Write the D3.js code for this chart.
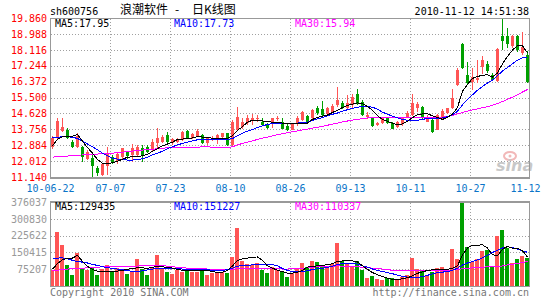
<!DOCTYPE html>
<meta charset="utf-8">
<style>
body { margin: 0; background: #fff; }
text { font-family: "DejaVu Sans Mono", monospace; font-size: 10px; }
.cjk { font-family: "Noto Sans CJK SC", sans-serif; font-size: 12px; }
</style>
<body>
<script src="https://d3js.org/d3.v7.min.js"></script>
<script>

// daily bars, 2010-06-22 .. 2010-11-12
var open = [12.77,13.26,13.66,13.72,13.07,12.80,12.80,12.16,12.20,11.65,11.25,11.70,12.22,11.98,12.20,12.49,12.35,12.35,12.71,12.80,12.62,12.99,13.08,13.45,
            12.99,13.08,13.17,13.66,13.26,13.41,13.44,12.99,13.20,13.17,13.32,13.53,12.89,13.72,13.90,14.09,14.27,14.35,14.17,14.03,14.09,14.33,14.17,13.94,
            13.72,14.09,14.27,14.49,14.36,14.91,14.85,14.60,14.72,15.09,15.18,14.91,15.09,15.67,15.27,14.41,14.36,14.00,14.09,14.36,14.09,13.90,14.00,14.45,
            14.56,14.92,15.00,14.20,14.27,13.72,14.30,14.63,14.89,16.20,18.45,16.73,16.30,16.46,17.21,17.34,16.75,16.39,18.86,18.87,18.31,18.86,17.92,17.85];
var high = [13.40,14.36,14.39,13.80,13.15,13.55,12.85,12.60,12.40,11.75,11.90,12.80,12.35,12.45,12.75,12.55,12.93,12.90,12.87,12.88,13.20,13.81,13.45,13.60,
            13.30,13.30,13.65,13.70,13.55,13.75,13.50,13.32,13.40,13.50,13.58,13.58,14.27,15.00,14.35,14.55,14.60,14.55,14.35,14.10,14.40,14.50,14.35,14.05,
            14.12,14.50,14.75,14.55,14.85,15.05,15.30,15.00,15.15,16.06,15.30,15.64,15.70,15.95,15.35,14.70,14.40,14.15,14.45,14.40,14.15,14.20,14.45,14.75,
            15.69,15.25,15.05,14.55,14.30,14.60,14.85,14.95,15.97,17.10,18.50,17.45,17.13,17.58,17.80,17.50,16.85,18.20,19.86,19.30,18.95,18.95,19.10,18.03];
var low = [12.70,13.20,13.60,13.20,12.72,12.72,11.95,12.05,11.16,11.20,11.20,11.25,11.85,11.85,12.10,12.15,11.98,12.30,11.98,12.45,12.55,12.75,13.00,12.98,
           12.90,13.00,13.10,13.20,13.20,13.35,12.95,12.90,13.10,12.95,13.28,12.85,12.85,13.70,13.75,14.00,14.00,14.15,13.95,13.75,13.80,14.20,13.75,13.65,
           13.70,13.95,14.20,14.05,14.30,14.55,14.50,14.50,14.65,15.00,14.85,14.85,14.95,15.10,14.50,14.30,13.90,13.95,14.05,14.05,13.75,13.85,13.95,14.40,
           14.50,14.70,14.30,14.15,13.55,13.70,14.28,14.60,14.85,16.15,17.05,16.19,15.90,16.30,16.80,16.85,16.45,16.35,18.10,18.20,18.20,18.00,17.85,16.30];
var close = [13.26,14.21,13.90,13.26,12.77,13.41,12.25,12.53,11.74,11.38,11.85,12.44,11.89,12.38,12.71,12.25,12.71,12.80,12.35,12.55,13.04,13.26,13.35,13.04,
             13.22,13.17,13.59,13.26,13.48,13.66,12.99,13.26,13.30,13.44,13.53,12.89,14.17,14.45,14.17,14.36,14.39,14.40,14.03,13.81,14.36,14.40,13.81,13.72,
             14.09,14.36,14.72,14.09,14.81,14.63,14.54,14.91,15.03,15.36,14.91,15.18,15.51,15.18,14.54,14.54,13.94,14.09,14.41,14.09,13.77,14.17,14.41,14.67,
             15.20,15.14,14.40,14.45,13.62,14.54,14.78,14.91,15.46,17.02,17.12,16.30,16.60,16.55,17.58,16.94,16.48,18.16,18.58,18.43,18.86,18.07,18.25,16.35];
var volume = [71600,239500,183200,94100,49300,148900,82400,71800,79100,49500,76200,94300,64100,79400,67200,52300,64500,121300,76100,49200,86300,139100,79200,64300,
              53800,71900,64200,71500,61300,64400,79300,49100,57300,61200,64100,57100,131200,261400,112300,96400,96200,101300,71800,60100,86200,72100,64200,42100,
              58200,79400,102300,85100,110400,108200,84300,84100,100200,194300,111200,102100,86400,111300,70200,36100,45200,32400,27300,33800,34100,28200,40300,50100,
              124100,75300,71800,45100,64200,79100,84300,70100,164200,119300,376037,176100,109200,119100,158200,160300,86200,224100,250200,170300,101200,120100,135200,125300];

// moving averages as drawn on the chart
var ma5 = [12.85,13.20,13.35,13.38,13.38,13.47,13.10,12.75,12.45,12.10,11.90,11.87,11.93,12.00,12.12,12.22,12.25,12.27,12.30,12.38,12.55,12.70,12.85,12.95,
           13.05,13.20,13.22,13.25,13.28,13.35,13.33,13.30,13.27,13.25,13.25,13.27,13.40,13.70,13.90,14.15,14.25,14.25,14.22,14.17,14.15,14.15,14.10,14.05,
           14.05,14.05,14.05,14.10,14.30,14.40,14.48,14.54,14.68,14.80,14.95,15.07,15.14,15.20,15.17,15.00,14.80,14.50,14.30,14.20,14.08,14.00,14.05,14.20,
           14.40,14.55,14.60,14.60,14.50,14.40,14.30,14.40,14.60,14.95,15.85,16.22,16.55,16.65,16.72,16.75,16.62,16.85,17.35,17.75,18.10,18.35,18.33,17.95];
var ma10 = [13.30,13.32,13.35,13.35,13.32,13.25,13.12,12.95,12.80,12.63,12.45,12.30,12.18,12.12,12.08,12.07,12.07,12.08,12.15,12.22,12.35,12.45,12.55,12.70,
            12.80,12.90,12.98,13.05,13.12,13.18,13.20,13.20,13.20,13.20,13.20,13.20,13.25,13.40,13.55,13.65,13.75,13.85,13.95,14.02,14.08,14.10,14.10,14.10,
            14.10,14.10,14.12,14.15,14.25,14.33,14.40,14.50,14.58,14.65,14.75,14.83,14.90,14.97,15.00,15.00,14.97,14.85,14.70,14.58,14.48,14.38,14.30,14.25,
            14.22,14.25,14.30,14.35,14.35,14.35,14.38,14.45,14.55,14.75,15.10,15.40,15.65,15.90,16.10,16.30,16.45,16.70,16.95,17.15,17.35,17.55,17.68,17.73];
var ma30 = [12.23,12.25,12.27,12.29,12.31,12.33,12.35,12.37,12.38,12.40,12.41,12.43,12.45,12.47,12.50,12.53,12.56,12.59,12.62,12.64,12.66,12.69,12.72,12.74,
            12.75,12.76,12.77,12.77,12.78,12.78,12.79,12.79,12.78,12.77,12.76,12.76,12.80,12.90,12.98,13.05,13.12,13.20,13.27,13.33,13.40,13.46,13.52,13.57,
            13.62,13.67,13.72,13.77,13.82,13.87,13.92,13.98,14.04,14.10,14.16,14.21,14.26,14.30,14.34,14.38,14.40,14.41,14.41,14.41,14.41,14.41,14.41,14.41,
            14.41,14.41,14.41,14.41,14.41,14.41,14.42,14.45,14.52,14.60,14.68,14.75,14.82,14.88,14.94,15.00,15.07,15.17,15.28,15.40,15.52,15.65,15.80,15.94];
var vma5 = [75000,100000,118000,124000,125000,137000,110000,88000,74000,66000,63000,64000,65000,67000,70000,75000,79000,81000,81000,79000,84000,88000,86000,83000,
            80000,75000,70000,68000,68000,70000,71000,69000,65000,61000,62000,70000,90000,114000,121000,125000,129000,130000,115000,90000,80000,70000,64000,58000,
            58000,62000,70000,85000,88000,90000,92000,96000,100000,110000,112000,112000,112000,108000,90000,75000,60000,50000,42000,35000,30000,30000,32000,37000,
            45000,57000,63000,70000,72000,72000,72000,74000,80000,90000,140000,170000,183000,183000,184000,170000,140000,135000,165000,177000,170000,168000,158000,129435];
var vma10 = [124000,125000,126000,122000,115000,109000,107000,103000,97000,92000,86000,82000,79000,76000,73000,69000,65000,65000,68000,72000,76000,78000,79000,79000,
             79000,77000,76000,75000,74000,74000,73000,72000,71000,70000,71000,72000,80000,89000,91000,92000,95000,98000,98000,98000,96000,90000,78000,70000,
             64000,64000,64000,68000,74000,77000,79000,83000,89000,96000,101000,101000,101000,98000,90000,84000,76000,70000,65000,60000,55000,48000,43000,40000,
             39000,39000,42000,48000,54000,60000,62000,65000,70000,80000,94000,103000,110000,117000,126000,138000,150000,160000,170000,176000,172000,165000,156000,151227];
var vma30 = [69000,71000,73000,76000,78000,79000,80000,81000,82000,84000,86000,86000,86000,86000,86000,86000,87000,89000,92000,94000,94000,94000,92000,88000,
             86000,84000,82000,80000,79000,79000,78000,76000,74000,72000,72000,72000,74000,78000,79000,79000,79000,79000,79000,79000,78000,77000,76000,76000,
             77000,78000,79000,81000,84000,86000,87000,88000,89000,90000,89000,88000,87000,86000,84000,82000,80000,78000,76000,74000,70000,68000,68000,68000,
             68000,68000,68000,68000,68000,68000,68000,69000,71000,74000,77000,79000,81000,82000,84000,86000,86000,87000,90000,94000,97000,101000,105000,110337];

// axis labels
var priceTicks = [11.140,12.012,12.884,13.756,14.628,15.500,16.372,17.244,18.116,18.988,19.860];
var volTicks = [75207,150415,225622,300830,376037];
var dates = ["10-06-22","07-07","07-23","08-10","08-26","09-13","10-11","10-27","11-12"];
var dateIdx = [0,12,24,36,48,60,72,84,95];

var upColor = "#ff5555", downColor = "#00a000";
var gridColor = "#a0a0a0", frameColor = "#999";

var svg = d3.select("body").append("svg")
    .attr("width", 545)
    .attr("height", 300);

svg.append("rect").attr("width", 545).attr("height", 300).attr("fill", "#fff");

// scales
var x = d3.scaleLinear().domain([0, 96]).range([50, 530]);
var y = d3.scaleLinear().domain([11.14, 19.86]).range([177, 18]);
var vy = d3.scaleLinear().domain([0, 376037]).range([286, 202]);

function px(v) { return Math.round(v) + 0.5; }

// dotted grid
var grid = svg.append("g")
    .attr("stroke", gridColor)
    .attr("stroke-dasharray", "1,2")
    .attr("shape-rendering", "crispEdges");

grid.selectAll(".hp").data(priceTicks.slice(1, -1)).enter().append("line")
    .attr("x1", 51).attr("x2", 529)
    .attr("y1", function(d) { return px(y(d)); })
    .attr("y2", function(d) { return px(y(d)); });

grid.selectAll(".hv").data(volTicks.slice(0, -1)).enter().append("line")
    .attr("x1", 51).attr("x2", 529)
    .attr("y1", function(d) { return px(vy(d)); })
    .attr("y2", function(d) { return px(vy(d)); });

grid.selectAll(".vp").data(dateIdx.slice(1, -1)).enter().append("line")
    .attr("x1", function(d) { return px(x(d)); })
    .attr("x2", function(d) { return px(x(d)); })
    .attr("y1", 19).attr("y2", 177);

grid.selectAll(".vv").data(dateIdx.slice(1, -1)).enter().append("line")
    .attr("x1", function(d) { return px(x(d)); })
    .attr("x2", function(d) { return px(x(d)); })
    .attr("y1", 203).attr("y2", 286);

// sina watermark
var wm = svg.append("g");
wm.append("ellipse").attr("cx", 510).attr("cy", 156).attr("rx", 6).attr("ry", 4)
    .attr("fill", "none").attr("stroke", "#f2b8b8").attr("stroke-width", 2);
wm.append("circle").attr("cx", 510).attr("cy", 156).attr("r", 1.5).attr("fill", "#f2b8b8");
wm.append("text").attr("x", 496).attr("y", 171)
    .style("font-family", "DejaVu Sans").style("font-size", "16px")
    .style("font-weight", "bold").style("font-style", "italic")
    .attr("fill", "#c8c8c8").text("sina");

// candles
var idx = d3.range(open.length);
var candles = svg.append("g").attr("shape-rendering", "crispEdges");

candles.selectAll(".wick").data(idx).enter().append("line")
    .attr("x1", function(i) { return x(i) + 2.5; })
    .attr("x2", function(i) { return x(i) + 2.5; })
    .attr("y1", function(i) { return Math.round(y(high[i])); })
    .attr("y2", function(i) { return Math.round(y(low[i])); })
    .attr("stroke", function(i) { return close[i] >= open[i] ? upColor : downColor; });

candles.selectAll(".body").data(idx).enter().append("rect")
    .attr("x", function(i) { return x(i) + 1; })
    .attr("width", 3)
    .attr("y", function(i) { return Math.round(y(Math.max(open[i], close[i]))); })
    .attr("height", function(i) { return Math.max(1, Math.round(Math.abs(y(open[i]) - y(close[i])))); })
    .attr("fill", function(i) { return close[i] >= open[i] ? upColor : downColor; });

// volume bars
svg.append("g").attr("shape-rendering", "crispEdges")
  .selectAll("rect").data(idx).enter().append("rect")
    .attr("x", function(i) { return x(i); })
    .attr("width", 4)
    .attr("y", function(i) { return Math.round(vy(volume[i])); })
    .attr("height", function(i) { return 286 - Math.round(vy(volume[i])); })
    .attr("fill", function(i) { return close[i] >= open[i] ? upColor : downColor; });

// moving average lines
function drawLine(values, scale, color) {
  var line = d3.line()
      .x(function(d, i) { return x(i) + 2.5; })
      .y(function(d) { return scale(d); });
  svg.append("path")
      .datum(values)
      .attr("d", line)
      .attr("fill", "none")
      .attr("stroke", color)
      .attr("stroke-width", 1)
      .attr("shape-rendering", "crispEdges");
}
drawLine(ma30, y, "#ff00ff");
drawLine(ma10, y, "#0000ff");
drawLine(ma5, y, "#000000");
drawLine(vma30, vy, "#ff00ff");
drawLine(vma10, vy, "#0000ff");
drawLine(vma5, vy, "#000000");

// frames
var frame = svg.append("g").attr("fill", "none").attr("stroke", frameColor)
    .attr("shape-rendering", "crispEdges");
frame.append("rect").attr("x", 50.5).attr("y", 18.5).attr("width", 479).attr("height", 159);
frame.append("line").attr("x1", 50).attr("x2", 530).attr("y1", 178.5).attr("y2", 178.5);
frame.append("rect").attr("x", 50.5).attr("y", 202.5).attr("width", 479).attr("height", 84);
frame.append("line").attr("x1", 50).attr("x2", 530).attr("y1", 201.5).attr("y2", 201.5);

// axes (labels only)
var yAxis = svg.append("g")
    .attr("transform", "translate(47,0)")
    .call(d3.axisLeft(y).tickValues(priceTicks).tickSize(0).tickPadding(0).tickFormat(d3.format(".3f")));
yAxis.select(".domain").remove();
yAxis.selectAll("text").attr("fill", "#ff0000")
    .style("font-family", "DejaVu Sans Mono").style("font-size", "10px");

var vAxis = svg.append("g")
    .attr("transform", "translate(47,0)")
    .call(d3.axisLeft(vy).tickValues(volTicks).tickSize(0).tickPadding(0).tickFormat(d3.format("d")));
vAxis.select(".domain").remove();
vAxis.selectAll("text").attr("fill", "#999")
    .style("font-family", "DejaVu Sans Mono").style("font-size", "10px");

var xAxis = svg.append("g")
    .attr("transform", "translate(0,185)")
    .call(d3.axisBottom(x).tickValues(dateIdx).tickSize(0).tickPadding(0)
      .tickFormat(function(d, i) { return dates[i]; }));
xAxis.select(".domain").remove();
xAxis.selectAll("text").attr("fill", "#0a74c8")
    .style("font-family", "DejaVu Sans Mono").style("font-size", "10px");

// titles and legends
svg.append("text").attr("x", 50).attr("y", 15).attr("fill", "#000").text("sh600756");
svg.append("text").attr("class", "cjk").attr("x", 120).attr("y", 14).attr("fill", "#000").text("浪潮软件");
svg.append("text").attr("class", "cjk").attr("x", 175).attr("y", 14).attr("fill", "#000").text("-");
svg.append("text").attr("class", "cjk").attr("x", 192).attr("y", 14).attr("fill", "#000").text("日K线图");
svg.append("text").attr("x", 529).attr("y", 15).attr("text-anchor", "end").attr("fill", "#000").text("2010-11-12 14:51:38");

var last = open.length - 1;
svg.append("text").attr("x", 55).attr("y", 27).attr("fill", "#000").text("MA5:" + ma5[last].toFixed(2));
svg.append("text").attr("x", 174).attr("y", 27).attr("fill", "#0000ff").text("MA10:" + ma10[last].toFixed(2));
svg.append("text").attr("x", 295).attr("y", 27).attr("fill", "#ff00ff").text("MA30:" + ma30[last].toFixed(2));

svg.append("text").attr("x", 55).attr("y", 210).attr("fill", "#000").text("MA5:" + vma5[last]);
svg.append("text").attr("x", 174).attr("y", 210).attr("fill", "#0000ff").text("MA10:" + vma10[last]);
svg.append("text").attr("x", 295).attr("y", 210).attr("fill", "#ff00ff").text("MA30:" + vma30[last]);

svg.append("text").attr("x", 50).attr("y", 296).attr("fill", "#777").text("Copyright 2010 SINA.COM");
svg.append("text").attr("x", 529).attr("y", 296).attr("text-anchor", "end").attr("fill", "#777").text("http://finance.sina.com.cn");

</script>
</body>
